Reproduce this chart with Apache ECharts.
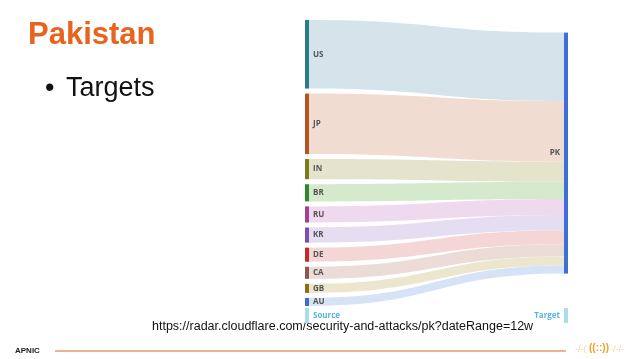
<!DOCTYPE html>
<html>
<head>
<meta charset="utf-8">
<style>
html,body{margin:0;padding:0;background:#fff;}
#c{width:638px;height:359px;}
</style>
<script src="https://cdn.jsdelivr.net/npm/echarts@6/dist/echarts.min.js"></script>
</head>
<body>
<div id="c"></div>
<script>
var sources = ['US','JP','IN','BR','RU','KR','DE','CA','GB','AU'];
var values = [68, 60, 20, 17, 16, 15, 14, 12, 9, 8];
var target = 'PK';
var nodeColors = ['#2b7a8c','#b5541f','#7f7a14','#2a8a2a','#a0428f','#7a4fb0','#c42a2a','#8a5a50','#8a7010','#3a6fd0'];
var linkColors = ['#d5e4ea','#f0dcd0','#e4e4cc','#d5e9cd','#efd9ee','#e5ddf2','#f5d6d6','#ebdcd8','#ece6cf','#d6e2f6'];
var legendNodes = ['Source','Target'];

var chart = echarts.init(document.getElementById('c'), null, {renderer:'canvas'});

var nodes = sources.map(function(s,i){
  return {name:s, itemStyle:{color:nodeColors[i]}, label:{position:'right'}};
});
nodes.push({name:target, itemStyle:{color:'#3d6fd6'}, label:{position:'left'}});
var links = sources.map(function(s,i){
  return {source:s, target:target, value:values[i], lineStyle:{color:linkColors[i], opacity:1}};
});

var labelBase = {show:true, fontSize:8, fontWeight:'bold', color:'#555', fontFamily:'Open Sans, sans-serif', distance:4};

chart.setOption({
  animation:false,
  graphic:[
    {type:'text', left:28, top:20, style:{text:'Pakistan', font:'bold 31px "Liberation Sans", Arial, sans-serif', fill:'#e8641e'}},
    {type:'text', left:45, top:75, style:{text:'\u2022', font:'27px "Liberation Sans", Arial, sans-serif', fill:'#111'}},
    {type:'text', left:66, top:75, style:{text:'Targets', font:'27px "Liberation Sans", Arial, sans-serif', fill:'#111'}},
    {type:'text', left:152, top:320, style:{text:'https://radar.cloudflare.com/security-and-attacks/pk?dateRange=12w', font:'12.5px "Liberation Sans", Arial, sans-serif', fill:'#111'}},
    {type:'text', left:15, top:347, style:{text:'APNIC', font:'bold 8px "Liberation Sans", Arial, sans-serif', fill:'#222'}},
    {type:'line', shape:{x1:55, y1:351, x2:566, y2:351}, style:{stroke:'#e2641e', lineWidth:1}},
    {type:'text', left:575, top:345, style:{text:'-/-(', font:'9px "Liberation Sans", Arial, sans-serif', fill:'#f3d6a6'}},
    {type:'text', left:589, top:343, style:{text:'((::))', font:'bold 10px "Liberation Sans", Arial, sans-serif', fill:'#f0a020'}},
    {type:'text', left:610, top:345, style:{text:'-/-/-', font:'9px "Liberation Sans", Arial, sans-serif', fill:'#f3d6a6'}}
  ],
  series:[
    {
      type:'sankey',
      left:305, right:70, top:20, bottom:53,
      nodeWidth:4, nodeGap:5,
      draggable:false,
      emphasis:{disabled:true},
      label:labelBase,
      lineStyle:{curveness:0.5},
      data:nodes,
      links:links
    },
    {
      type:'sankey',
      left:305, right:70, top:308, bottom:36,
      nodeWidth:4, nodeGap:5,
      draggable:false,
      emphasis:{disabled:true},
      label:{show:true, fontSize:8, fontWeight:'bold', color:'#5ab4e0', fontFamily:'Open Sans, sans-serif', distance:4},
      itemStyle:{color:'#a9dcef'},
      data:[{name:legendNodes[0], label:{position:'right'}},{name:legendNodes[1], label:{position:'left'}}],
      links:[{source:legendNodes[0], target:legendNodes[1], value:1, lineStyle:{opacity:0}}]
    }
  ]
});
</script>
</body>
</html>
